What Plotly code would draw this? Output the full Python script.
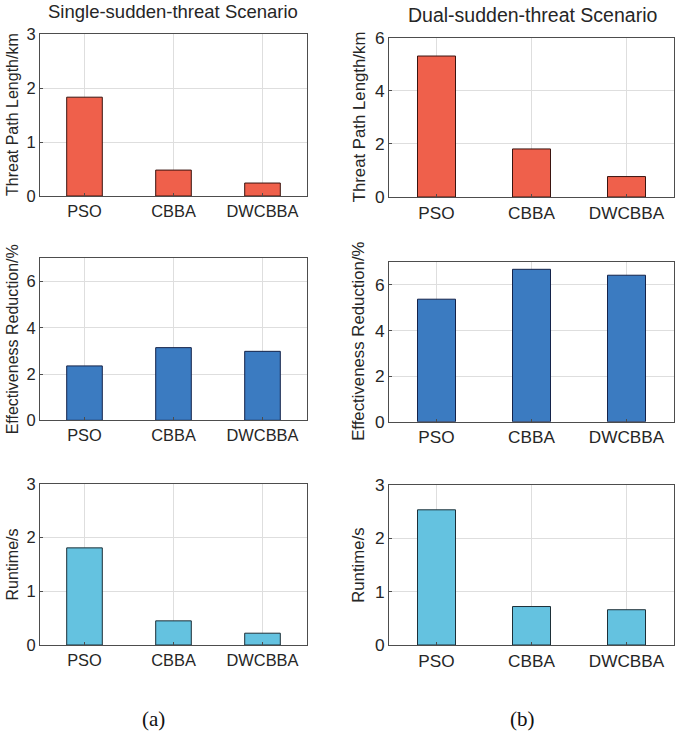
import plotly.graph_objects as go

categories = ["PSO", "CBBA", "DWCBBA"]
single_threat_len = [1.83, 0.48, 0.24]
dual_threat_len = [5.31, 1.81, 0.77]
single_eff = [2.35, 3.14, 2.98]
dual_eff = [5.37, 6.68, 6.42]
single_runtime = [1.81, 0.45, 0.22]
dual_runtime = [2.53, 0.72, 0.66]

W, H = 685, 731
RED, BLUE, CYAN = "#EF604B", "#3B7BC1", "#64C2E0"
EDGE_RED, EDGE_BLUE, EDGE_CYAN = "#3a1410", "#14234a", "#1d2f38"

# panels: (values, color, edge, x px range, y px range, y range, ticks, ytitle, ytitle x, font scale)
panels = [
    (single_threat_len, RED, EDGE_RED, (40, 307), (34, 196), [0, 3], [0, 1, 2, 3], "Threat Path Length/km", 12, 1.0),
    (dual_threat_len, RED, EDGE_RED, (389, 674), (37.7, 197), [0, 6], [0, 2, 4, 6], "Threat Path Length/km", 359, 1.05),
    (single_eff, BLUE, EDGE_BLUE, (40, 307), (258.3, 420.3), [0, 7], [0, 2, 4, 6], "Effectiveness Reduction/%", 12, 1.0),
    (dual_eff, BLUE, EDGE_BLUE, (389, 674), (262, 421.7), [0, 7], [0, 2, 4, 6], "Effectiveness Reduction/%", 359, 1.05),
    (single_runtime, CYAN, EDGE_CYAN, (40, 307), (484, 645), [0, 3], [0, 1, 2, 3], "Runtime/s", 12, 1.0),
    (dual_runtime, CYAN, EDGE_CYAN, (389, 674), (484.7, 645), [0, 3], [0, 1, 2, 3], "Runtime/s", 359, 1.05),
]

fig = go.Figure()
layout = dict(
    template="none",
    width=W, height=H, margin=dict(l=0, r=0, t=0, b=0, pad=0),
    paper_bgcolor="white", plot_bgcolor="white", showlegend=False,
    font=dict(family="Liberation Sans, Arial", color="#262626"),
)
annotations = []
for i, (vals, col, edge, xr, yr, rng, ticks, ytitle, ytx, fs) in enumerate(panels):
    n = "" if i == 0 else str(i + 1)
    fig.add_trace(go.Bar(
        x=categories, y=vals, width=0.4,
        marker=dict(color=col, line=dict(color=edge, width=1)),
        xaxis="x" + n, yaxis="y" + n, hoverinfo="skip",
    ))
    common = dict(showline=True, linecolor="#4d4d4d", linewidth=1, mirror=True,
                  showgrid=True, gridcolor="#dedede", gridwidth=1, automargin=False,
                  ticks="inside", ticklen=3, tickcolor="#4d4d4d", zeroline=False)
    layout["xaxis" + n] = dict(common, domain=[xr[0] / W, xr[1] / W], anchor="y" + n,
                               range=[-0.5, 2.5], type="category",
                               tickfont=dict(size=16.4 * fs, color="#262626"))
    layout["yaxis" + n] = dict(common, domain=[1 - yr[1] / H, 1 - yr[0] / H], anchor="x" + n,
                               range=rng, tickvals=ticks, tickfont=dict(size=16.5 * fs, color="#262626"))
    annotations.append(dict(
        text=ytitle, textangle=-90, x=ytx / W, y=1 - (yr[0] + yr[1]) / 2 / H,
        xref="paper", yref="paper", showarrow=False, xanchor="center", yanchor="middle",
        font=dict(size=16 * fs, color="#262626"),
    ))

annotations += [
    dict(text="Single-sudden-threat Scenario", x=173 / W, y=1 - 11 / H, xref="paper", yref="paper",
         showarrow=False, xanchor="center", yanchor="middle", font=dict(size=18.5, color="#262626")),
    dict(text="Dual-sudden-threat Scenario", x=532 / W, y=1 - 15 / H, xref="paper", yref="paper",
         showarrow=False, xanchor="center", yanchor="middle", font=dict(size=19.5, color="#262626")),
    dict(text="(a)", x=153 / W, y=1 - 719 / H, xref="paper", yref="paper", showarrow=False,
         xanchor="center", yanchor="middle", font=dict(size=21, family="Liberation Serif, Times New Roman", color="#111")),
    dict(text="(b)", x=522 / W, y=1 - 719 / H, xref="paper", yref="paper", showarrow=False,
         xanchor="center", yanchor="middle", font=dict(size=21, family="Liberation Serif, Times New Roman", color="#111")),
]
layout["annotations"] = annotations
fig.update_layout(**layout)
fig.write_html("out.html", config={"displayModeBar": False},
               post_script="document.body.style.margin='0';document.body.style.overflow='hidden';")
